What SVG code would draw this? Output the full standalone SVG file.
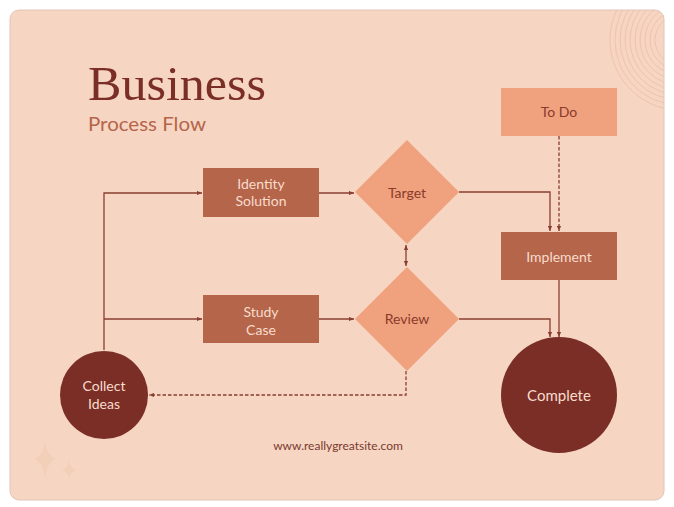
<svg xmlns="http://www.w3.org/2000/svg" width="674" height="507" viewBox="0 0 674 507">
<defs>
<style>
.t{font-family:Lato,"Noto Sans",sans-serif;text-anchor:middle;font-size:14px}
.lt{fill:#f8dccd}
.dk{fill:#8a3a2a}
.ln{fill:none;stroke:#8a3e30;stroke-width:1.3}
.ds{stroke-dasharray:3.5 2}
.mid{fill:#b5654a}
.lite{fill:#f0a27f}
.circ{fill:#7a2e26}
.arc{fill:none;stroke:#eab89f;stroke-width:0.8;opacity:0.8}
</style>
<marker id="ah" viewBox="0 0 6 6" refX="6" refY="3" markerWidth="5" markerHeight="5" orient="auto-start-reverse" markerUnits="userSpaceOnUse">
<path d="M0,0.5 L6,3 L0,5.5 Z" fill="#8a3e30"/>
</marker>
<clipPath id="card"><rect x="10" y="10" width="654" height="490" rx="9"/></clipPath>
</defs>
<rect width="674" height="507" fill="#ffffff"/>
<rect x="10" y="10" width="654" height="490" rx="9" fill="#f6d5c3" stroke="#e2c6b8" stroke-width="1"/>
<g clip-path="url(#card)">
<circle class="arc" cx="680" cy="40" r="25"/>
<circle class="arc" cx="680" cy="40" r="30"/>
<circle class="arc" cx="680" cy="40" r="35"/>
<circle class="arc" cx="680" cy="40" r="40"/>
<circle class="arc" cx="680" cy="40" r="45"/>
<circle class="arc" cx="680" cy="40" r="50"/>
<circle class="arc" cx="680" cy="40" r="55"/>
<circle class="arc" cx="680" cy="40" r="60"/>
<circle class="arc" cx="680" cy="40" r="65"/>
<circle class="arc" cx="680" cy="40" r="70"/>
</g>
<path d="M45,441 Q47,456 56,459 Q47,462 45,477 Q43,462 34,459 Q43,456 45,441 Z" fill="#f0cdb0" opacity="0.6"/>
<path d="M69,460 Q70,468 76,470 Q70,472 69,480 Q68,472 62,470 Q68,468 69,460 Z" fill="#f0cdb0" opacity="0.6"/>
<text x="88" y="100" font-family="'Liberation Serif',serif" font-size="48" fill="#7a2e26" textLength="178" lengthAdjust="spacingAndGlyphs">Business</text>
<text x="88" y="131" font-family="Lato,'Noto Sans',sans-serif" font-size="20" fill="#b5654a" textLength="118" lengthAdjust="spacingAndGlyphs">Process Flow</text>
<text class="t" x="338" y="450" fill="#7a3a2e" style="font-size:12px">www.reallygreatsite.com</text>
<g id="connectors">
<path class="ln" d="M104,350 V193 H202" marker-end="url(#ah)"/>
<path class="ln" d="M104,319 H202" marker-end="url(#ah)"/>
<path class="ln" d="M319,193 H354" marker-end="url(#ah)"/>
<path class="ln" d="M319,319 H354" marker-end="url(#ah)"/>
<path class="ln" d="M459,192 H550 V231" marker-end="url(#ah)"/>
<path class="ln ds" d="M559,136 V231" marker-end="url(#ah)"/>
<path class="ln" d="M406,245 V266" marker-start="url(#ah)" marker-end="url(#ah)"/>
<path class="ln" d="M459,319 H550 V337" marker-end="url(#ah)"/>
<path class="ln" d="M559,280 V337" marker-end="url(#ah)"/>
<path class="ln ds" d="M406,371 V395 H149" marker-end="url(#ah)"/>
</g>
<g id="identity">
<rect class="mid" x="203" y="168" width="116" height="49"/>
<text class="t lt" x="261" y="189">Identity</text>
<text class="t lt" x="261" y="206">Solution</text>
</g>
<g id="study">
<rect class="mid" x="203" y="295" width="116" height="48"/>
<text class="t lt" x="261" y="317">Study</text>
<text class="t lt" x="261" y="335">Case</text>
</g>
<g id="target">
<polygon class="lite" points="407,140 459,192 407,244 355,192"/>
<text class="t dk" x="407" y="198">Target</text>
</g>
<g id="review">
<polygon class="lite" points="407,267 459,319 407,371 355,319"/>
<text class="t dk" x="407" y="324">Review</text>
</g>
<g id="todo">
<rect class="lite" x="501" y="88" width="116" height="48"/>
<text class="t dk" x="559" y="117">To Do</text>
</g>
<g id="implement">
<rect class="mid" x="501" y="232" width="116" height="48"/>
<text class="t lt" x="559" y="262">Implement</text>
</g>
<g id="complete">
<circle class="circ" cx="559" cy="395" r="58"/>
<text class="t lt" x="559" y="401" style="font-size:15px">Complete</text>
</g>
<g id="collect">
<circle class="circ" cx="104" cy="395" r="44"/>
<text class="t lt" x="104" y="391">Collect</text>
<text class="t lt" x="104" y="409">Ideas</text>
</g>
</svg>
